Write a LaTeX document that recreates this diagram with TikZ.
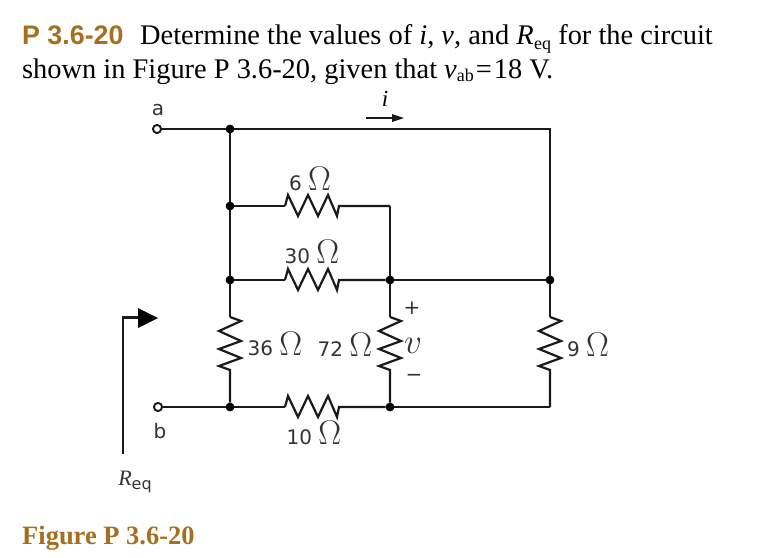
\documentclass[tikz,border=0pt]{standalone}
\usepackage{fontspec}
\usepackage{graphicx}
\setmainfont{Liberation Serif}
\setsansfont{Liberation Sans}
\newfontfamily\lab{DejaVu Sans}
\definecolor{brownish}{HTML}{A56F1F}
\definecolor{ink}{HTML}{1A1A1A}
\definecolor{soft}{HTML}{333333}
\newcommand{\ohm}{\scalebox{1.65}{$\Omega$}}
\tikzset{
  wire/.style={draw=ink,line width=2.2pt,line join=miter},
  dot/.style={circle,fill=black,inner sep=0pt,minimum size=8.5pt},
  term/.style={circle,draw=ink,fill=white,line width=1.8pt,inner sep=0pt,minimum size=8pt},
  val/.style={inner sep=0pt,text=soft,font=\lab\fontsize{20}{20}\selectfont},
  para/.style={inner sep=0pt,anchor=base west,text=black,font=\fontsize{28.4}{28.4}\selectfont},
}
\newcommand{\hres}[2]{\draw[wire] (#1) -- ++(3,-11) -- ++(10,21) -- ++(10,-21) -- ++(10,21) -- ++(10,-21) -- ++(9,21) -- ++(2,-10) -- (#2);}
\newcommand{\vres}[2]{\draw[wire] (#1) -- ++(11,4) -- ++(-22,10) -- ++(22,10) -- ++(-22,8) -- ++(22,9) -- ++(-22,8) -- ++(11,4) -- (#2);}
\begin{document}
\begin{tikzpicture}[x=1pt,y=-1pt]
\useasboundingbox (0,0) rectangle (765,557);
% heading
\node[para,text=brownish,font=\sffamily\bfseries\fontsize{26.8}{26.8}\selectfont] (head) at (22,44) {P 3.6-20};
\node[para] (l1) at (140,44) {Determine the values of \textit{i}, \textit{v}, and \textit{R}\kern0.5pt\raisebox{-5pt}{\fontsize{18}{18}\selectfont eq} for the circuit};
\node[para] (l2) at (22,78) {shown in Figure P 3.6-20, given that \textit{v}\raisebox{-3pt}{\fontsize{18}{18}\selectfont ab}\kern2pt=\kern2pt18 V.};
% junctions
\coordinate (tr) at (550,129);
\coordinate (br) at (550,407);
\coordinate (c6) at (390,206);
\node[dot] (t1) at (230,129) {};
\node[dot] (m6) at (230,206) {};
\node[dot] (m1) at (230,280) {};
\node[dot] (m2) at (390,280) {};
\node[dot] (m3) at (550,280) {};
\node[dot] (b1) at (230,407) {};
\node[dot] (b2) at (390,407) {};
\node[term] (a) at (157,129) {};
\node[term] (b) at (158,407) {};
% wires
\draw[wire] (a) -- (t1) -- (tr) -- (m3);
\draw[wire] (t1) -- (m6) -- (m1);
\draw[wire] (b) -- (b1);
\draw[wire] (m1) -- (285,280);
\draw[wire] (m2) -- (m3);
\draw[wire] (b2) -- (br);
% resistors
\coordinate (r6a) at (285,206);
\coordinate (r30a) at (285,280);
\coordinate (r10a) at (285,407);
\coordinate (r36a) at (230,317);
\coordinate (r72a) at (390,317);
\coordinate (r9a) at (550,317);
\draw[wire] (m6) -- (r6a);
\hres{r6a}{c6}
\draw[wire] (c6) -- (m2);
\hres{r30a}{m2}
\draw[wire] (b1) -- (r10a);
\hres{r10a}{b2}
\draw[wire] (m1) -- (r36a);
\vres{r36a}{b1}
\draw[wire] (m2) -- (r72a);
\vres{r72a}{b2}
\draw[wire] (m3) -- (r9a);
\vres{r9a}{br}
\node[dot] at (t1) {};\node[dot] at (m6) {};\node[dot] at (m1) {};\node[dot] at (m2) {};\node[dot] at (m3) {};\node[dot] at (b1) {};\node[dot] at (b2) {};
\node[term] at (a) {};\node[term] at (b) {};
% labels
\node[val] (la) at (158,110) {a};
\node[val] (lb) at (160,431) {b};
\node[val] (v6) at (310,179) {6 \ohm};
\node[val] (v30) at (312,252) {30 \ohm};
\node[val] (v36) at (275,344) {36 \ohm};
\node[val] (v72) at (345,345) {72 \ohm};
\node[val] (v9) at (588,345) {9 \ohm};
\node[val] (v10) at (314,433) {10 \ohm};
\node[val] (plus) at (412,308) {+};
\node[val] (vv) at (413,346) {\scalebox{1.7}{$v$}};
\node[val] (minus) at (414,378) {\textminus};
\node[inner sep=0pt,font=\fontsize{23}{23}\selectfont] (ii) at (385,99) {\textit{i}};
% current arrow
\coordinate (ia) at (366,118);
\coordinate (ib) at (404,118);
\draw[ink,line width=1.8pt] (ia) -- (392,118);
\fill[ink] (392,114) -- (ib) -- (392,122) -- cycle;
% Req
\coordinate (q1) at (123,454);
\coordinate (q2) at (123,317.5);
\coordinate (q3) at (140,317.5);
\draw[wire] (q1) -- (q2) -- (q3);
\fill[black] (138,308) -- (158,318) -- (138,328) -- cycle;
\node[inner sep=0pt,anchor=base,text=soft,font=\fontsize{22}{22}\selectfont] (rq) at (135,485) {\textit{R}\raisebox{-4pt}{\lab\fontsize{16}{16}\selectfont eq}};
% caption
\node[para,text=brownish,font=\bfseries\fontsize{26.5}{26.5}\selectfont] (cap) at (22,544) {Figure P 3.6-20};
\end{tikzpicture}
\end{document}
